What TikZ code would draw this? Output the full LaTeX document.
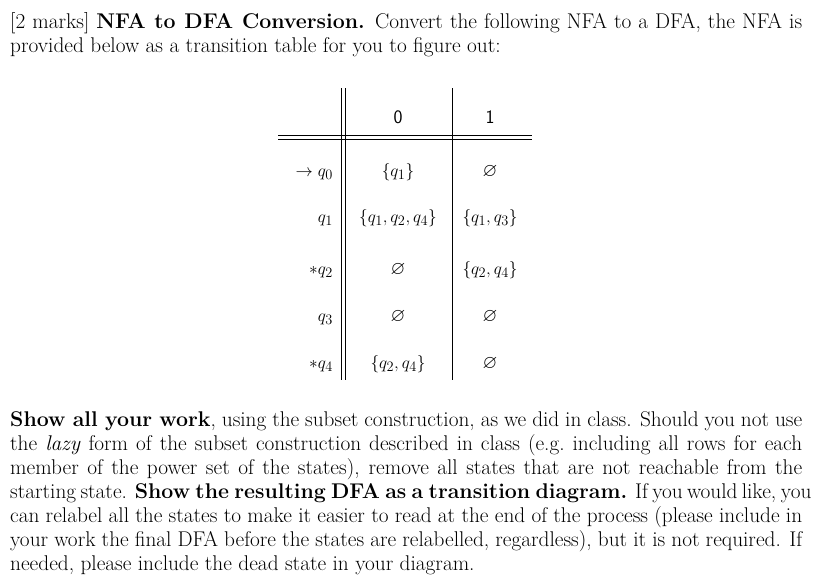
\documentclass[tikz,border=0pt]{standalone}
\usepackage{amssymb}
\begin{document}
\begin{tikzpicture}[x=1pt,y=-1pt,
  ln/.style={anchor=base west,inner sep=0,font=\fontsize{21.3}{24}\selectfont},
  cell/.style={anchor=base,inner sep=0,font=\fontsize{19}{22}\selectfont},
  lab/.style={anchor=base east,inner sep=0,font=\fontsize{19}{22}\selectfont}]
\useasboundingbox (0,0) rectangle (837,587);
\newcommand{\jl}[1]{\makebox[792pt][s]{#1}}
\node[ln] (l1) at (10,28) {\jl{[2 marks] \textbf{NFA to DFA Conversion.} Convert the following NFA to a DFA, the NFA is}};
\node[ln] (l2) at (10,52) {provided below as a transition table for you to figure out:};
% table
\draw (341,88) -- (341,380) (345,88) -- (345,380) (452,88) -- (452,380);
\draw (278,135) -- (532,135) (278,139) -- (532,139);
\node[cell] (h0) at (398,123) {\sffamily 0};
\node[cell] (h1) at (490,123) {\sffamily 1};
\node[lab] (r0) at (333,176) {$\rightarrow q_0$};
\node[lab] (r1) at (333,222) {$q_1$};
\node[lab] (r2) at (333,274) {$*q_2$};
\node[lab] (r3) at (333,321) {$q_3$};
\node[lab] (r4) at (333,368) {$*q_4$};
\node[cell] (a0) at (398,176) {$\{q_1\}$};
\node[cell] (b0) at (490,176) {$\varnothing$};
\node[cell] (a1) at (398,222) {$\{q_1,q_2,q_4\}$};
\node[cell] (b1) at (490,222) {$\{q_1,q_3\}$};
\node[cell] (a2) at (398,274) {$\varnothing$};
\node[cell] (b2) at (490,274) {$\{q_2,q_4\}$};
\node[cell] (a3) at (398,321) {$\varnothing$};
\node[cell] (b3) at (490,321) {$\varnothing$};
\node[cell] (a4) at (398,368) {$\{q_2,q_4\}$};
\node[cell] (b4) at (490,368) {$\varnothing$};
% paragraph 2
\node[ln] (p1) at (10,426) {\jl{\textbf{Show all your work}, using the subset construction, as we did in class. Should you not use}};
\node[ln] (p2) at (10,450) {\jl{the \textit{lazy} form of the subset construction described in class (e.g.\ including all rows for each}};
\node[ln] (p3) at (10,474) {\jl{member of the power set of the states), remove all states that are not reachable from the}};
\node[ln] (p4) at (10,498) {\jl{starting state. \textbf{Show the resulting DFA as a transition diagram.} If you would like, you}};
\node[ln] (p5) at (10,522) {\jl{can relabel all the states to make it easier to read at the end of the process (please include in}};
\node[ln] (p6) at (10,546) {\jl{your work the final DFA before the states are relabelled, regardless), but it is not required. If}};
\node[ln] (p7) at (10,570) {needed, please include the dead state in your diagram.};
\end{tikzpicture}
\end{document}
